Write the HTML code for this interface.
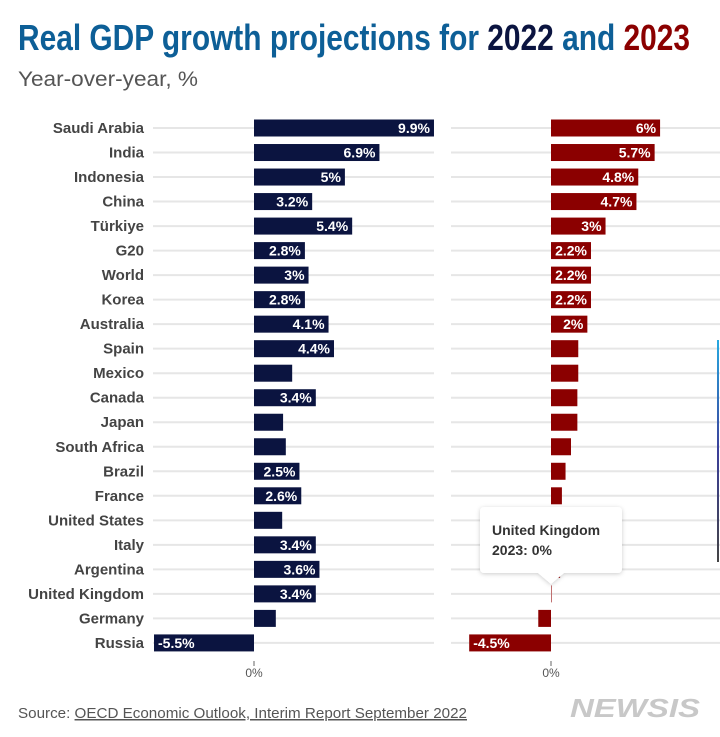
<!DOCTYPE html>
<html><head><meta charset="utf-8"><style>
html,body{margin:0;padding:0;background:#fff;width:720px;height:737px;overflow:hidden}
svg text{font-family:"Liberation Sans",sans-serif}
</style></head><body>
<svg width="720" height="737" viewBox="0 0 720 737" xmlns="http://www.w3.org/2000/svg">
<defs>
<filter id="sh" x="-20%" y="-20%" width="140%" height="150%"><feDropShadow dx="0" dy="1" stdDeviation="2" flood-color="#000" flood-opacity="0.2"/></filter>
<linearGradient id="vg" x1="0" y1="0" x2="0" y2="1"><stop offset="0" stop-color="#27a9e1"/><stop offset="0.5" stop-color="#3b3f9a"/><stop offset="1" stop-color="#444"/></linearGradient>
</defs>
<text x="18" y="50" font-size="36" font-weight="bold" textLength="672" lengthAdjust="spacingAndGlyphs" fill="#0d5f97">Real GDP growth projections for <tspan fill="#0b1440">2022</tspan> and <tspan fill="#8b0000">2023</tspan></text>
<text x="18" y="86" font-size="21" fill="#555" textLength="180" lengthAdjust="spacingAndGlyphs">Year-over-year, %</text>
<g id="rows"></g>
<line x1="254" y1="661" x2="254" y2="666" stroke="#666"/>
<line x1="551" y1="661" x2="551" y2="666" stroke="#666"/>
<text x="254" y="677" font-size="12" fill="#555" text-anchor="middle">0%</text>
<text x="551" y="677" font-size="12" fill="#555" text-anchor="middle">0%</text>
<rect x="717" y="340" width="2" height="222" fill="url(#vg)"/>
<g filter="url(#sh)">
<rect x="480" y="507" width="142" height="66" rx="4" fill="#fff"/>
<path d="M538 573 L551 584 L564 573 Z" fill="#fff"/>
</g>
<text x="492" y="535" font-size="14" font-weight="bold" fill="#333">United Kingdom</text>
<text x="492" y="555" font-size="14" font-weight="bold" fill="#333">2023: 0%</text>
<text x="18" y="718" font-size="15" fill="#555" textLength="449" lengthAdjust="spacingAndGlyphs">Source: <tspan text-decoration="underline">OECD Economic Outlook, Interim Report September 2022</tspan></text>
<text x="570" y="717" font-size="26" font-weight="bold" font-style="italic" fill="#c8c8c8" textLength="130" lengthAdjust="spacingAndGlyphs">NEWSIS</text>
</svg>
<script>
const names=["Saudi Arabia","India","Indonesia","China","Türkiye","G20","World","Korea","Australia","Spain","Mexico","Canada","Japan","South Africa","Brazil","France","United States","Italy","Argentina","United Kingdom","Germany","Russia"];
const L=[9.9,6.9,5,3.2,5.4,2.8,3,2.8,4.1,4.4,2.1,3.4,1.6,1.75,2.5,2.6,1.55,3.4,3.6,3.4,1.2,-5.5];
const Ll=[1,1,1,1,1,1,1,1,1,1,0,1,0,0,1,1,0,1,1,1,0,1];
const R=[6,5.7,4.8,4.7,3,2.2,2.2,2.2,2,1.5,1.5,1.45,1.45,1.1,0.8,0.6,0.5,0.7,0.5,0,-0.7,-4.5];
const Rl=[1,1,1,1,1,1,1,1,1,0,0,0,0,0,0,0,0,0,0,0,0,1];
const s=18.18;let h='';
names.forEach((n,i)=>{
 const y=128+i*24.52;
 h+=`<line x1="153" y1="${y}" x2="434" y2="${y}" stroke="#e6e6e6" stroke-width="2"/>`;
 h+=`<line x1="451" y1="${y}" x2="720" y2="${y}" stroke="#e6e6e6" stroke-width="2"/>`;
 h+=`<text x="144" y="${y+5}" font-size="15" font-weight="bold" fill="#444" text-anchor="end">${n}</text>`;
 const v=L[i],x0=v>=0?254:254+v*s,w=Math.abs(v)*s;
 h+=`<rect x="${x0}" y="${y-8.5}" width="${w}" height="17" fill="#0b1440"/>`;
 if(Ll[i]){const fmt=v+'%';h+= v>=0?`<text x="${254+w-4}" y="${y+5}" font-size="14" font-weight="bold" fill="#fff" text-anchor="end">${fmt}</text>`:`<text x="${x0+4}" y="${y+5}" font-size="14" font-weight="bold" fill="#fff">${fmt}</text>`;}
 const r=R[i],rx=r>=0?551:551+r*s,rw=Math.max(Math.abs(r)*s,1);
 h+=`<rect x="${rx}" y="${y-8.5}" width="${rw}" height="17" fill="${r===0?'#c07070':'#8b0000'}"/>`;
 if(Rl[i]){const fmt=r+'%';h+= r>=0?`<text x="${551+rw-4}" y="${y+5}" font-size="14" font-weight="bold" fill="#fff" text-anchor="end">${fmt}</text>`:`<text x="${rx+4}" y="${y+5}" font-size="14" font-weight="bold" fill="#fff">${fmt}</text>`;}
});
document.getElementById('rows').innerHTML=h;
</script>
</body></html>
